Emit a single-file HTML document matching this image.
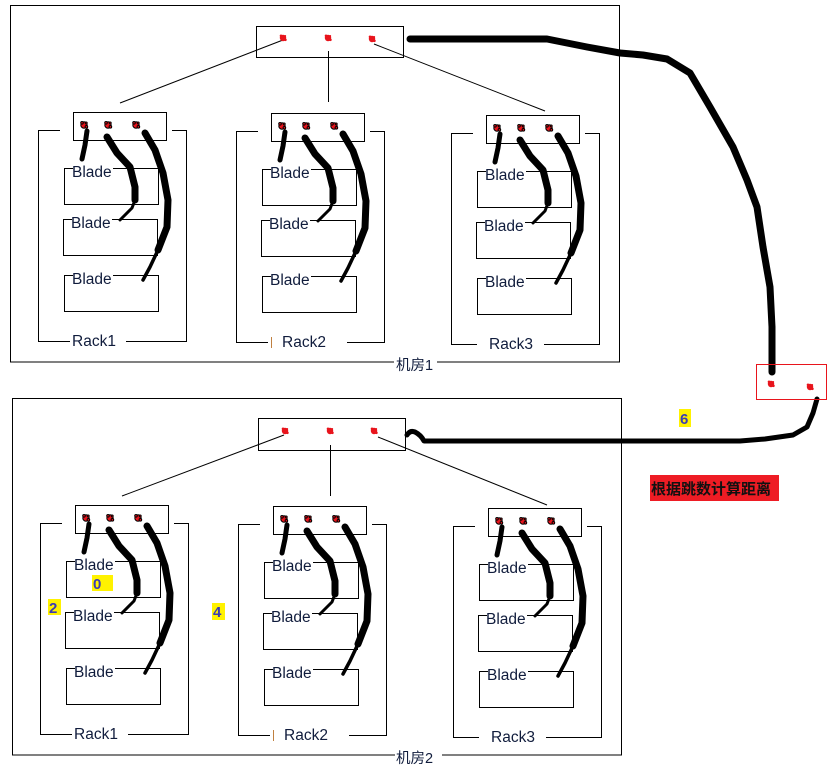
<!DOCTYPE html>
<html>
<head>
<meta charset="utf-8">
<style>
html,body{margin:0;padding:0;background:#fff;}
svg{display:block;}
text{font-family:"Liberation Sans","Noto Sans CJK SC",sans-serif;}
.lbl{font-size:15.5px;fill:#101c3c;}
.num{font-size:15px;font-weight:bold;fill:#3c3cb4;}
</style>
</head>
<body>
<svg width="838" height="772" viewBox="0 0 838 772" xmlns="http://www.w3.org/2000/svg">
<defs>
  <g id="dot"><circle cx="0" cy="0" r="3.2" fill="#e8141c"/><circle cx="-2" cy="-2.2" r="1.3" fill="#e8141c"/><circle cx="2.4" cy="1.8" r="1.3" fill="#e8141c"/><circle cx="2.2" cy="-2" r="1" fill="#e8141c"/></g>
  <g id="rackshapes" fill="none" stroke="#000" stroke-width="1">
    <rect x="0.5" y="0.5" width="93" height="28" fill="#fff"/>
    <path d="M-13 18.5 H-34.5 V229.5 H-3"/>
    <path d="M99 18.5 H113.5 V229.5"/>
    <rect x="-8.5" y="56.5" width="94" height="36"/>
    <rect x="-9.5" y="107.5" width="94" height="36"/>
    <rect x="-8.5" y="163.5" width="94" height="36"/>
    <rect x="0" y="52" width="40" height="8" fill="#fff" stroke="none"/>
    <rect x="-1" y="103" width="40" height="8" fill="#fff" stroke="none"/>
    <rect x="0" y="159" width="40" height="8" fill="#fff" stroke="none"/>
    <use href="#dot" x="11" y="13"/>
    <use href="#dot" x="35" y="13"/>
    <use href="#dot" x="63" y="13"/>
    <path d="M14 19 L12 33 L9 47" stroke-width="5" stroke-linecap="round" stroke-linejoin="round"/>
    <path d="M34 25 L44 41 L57 55 L62 75 L62 88" stroke-width="7" stroke-linecap="round" stroke-linejoin="round"/>
    <path d="M62 88 L59 96 L47 108" stroke-width="3" stroke-linecap="round" stroke-linejoin="round"/>
    <path d="M72 21 L82 38 L90 61 L95 88 L94 115 L85 138" stroke-width="7" stroke-linecap="round" stroke-linejoin="round"/>
    <path d="M85 138 L77 155 L70 168" stroke-width="3.5" stroke-linecap="round" stroke-linejoin="round"/>
  </g>
</defs>

<!-- Room 1 -->
<rect x="10.5" y="5.5" width="609" height="356.5" fill="none" stroke="#000" stroke-width="1"/>
<rect x="394" y="356" width="43" height="12" fill="#fff"/>
<text x="396" y="370" style="font-size:14.5px" fill="#101c3c">机房1</text>

<g stroke="#000" stroke-width="1" fill="none">
  <line x1="283" y1="40" x2="120" y2="103"/>
  <line x1="328.5" y1="51" x2="328.5" y2="102"/>
  <line x1="374" y1="44" x2="545" y2="111"/>
  <rect x="256.5" y="26.5" width="147" height="31"/>
</g>
<use href="#dot" x="283" y="38"/>
<use href="#dot" x="328" y="38"/>
<use href="#dot" x="372" y="39"/>

<g transform="translate(73,112)"><use href="#rackshapes"/>
  <line x1="53" y1="229.5" x2="114" y2="229.5" stroke="#000"/>
  <text class="lbl" x="-1" y="65">Blade</text><text class="lbl" x="-2" y="116">Blade</text><text class="lbl" x="-1" y="172">Blade</text>
  <text class="lbl" x="-1" y="234">Rack1</text></g>
<g transform="translate(271,113)"><use href="#rackshapes"/>
  <line x1="0.5" y1="224" x2="0.5" y2="235" stroke="#c08040"/>
  <line x1="76" y1="229.5" x2="114" y2="229.5" stroke="#000"/>
  <text class="lbl" x="-1" y="65">Blade</text><text class="lbl" x="-2" y="116">Blade</text><text class="lbl" x="-1" y="172">Blade</text>
  <text class="lbl" x="11" y="234">Rack2</text></g>
<g transform="translate(486,115)"><use href="#rackshapes"/>
  <rect x="-9" y="224" width="8" height="10" fill="#fff"/>
  <line x1="58" y1="229.5" x2="114" y2="229.5" stroke="#000"/>
  <text class="lbl" x="-1" y="65">Blade</text><text class="lbl" x="-2" y="116">Blade</text><text class="lbl" x="-1" y="172">Blade</text>
  <text class="lbl" x="3" y="234">Rack3</text></g>

<!-- Room 2 -->
<rect x="12.5" y="398.5" width="609" height="356.5" fill="none" stroke="#000" stroke-width="1"/>
<rect x="395" y="749" width="47" height="12" fill="#fff"/>
<text x="396" y="763" style="font-size:14.5px" fill="#101c3c">机房2</text>

<g stroke="#000" stroke-width="1" fill="none">
  <line x1="284" y1="435" x2="122" y2="496"/>
  <line x1="330.5" y1="445" x2="330.5" y2="496"/>
  <line x1="378" y1="437" x2="547" y2="505"/>
  <rect x="258.5" y="418.5" width="147" height="32"/>
</g>
<use href="#dot" x="285" y="431"/>
<use href="#dot" x="330" y="431"/>
<use href="#dot" x="374" y="431"/>

<g transform="translate(75,505)"><use href="#rackshapes"/>
  <line x1="53" y1="229.5" x2="114" y2="229.5" stroke="#000"/>
  <text class="lbl" x="-1" y="65">Blade</text><text class="lbl" x="-2" y="116">Blade</text><text class="lbl" x="-1" y="172">Blade</text>
  <text class="lbl" x="-1" y="234">Rack1</text></g>
<g transform="translate(273,506)"><use href="#rackshapes"/>
  <line x1="0.5" y1="224" x2="0.5" y2="235" stroke="#c08040"/>
  <line x1="76" y1="229.5" x2="114" y2="229.5" stroke="#000"/>
  <text class="lbl" x="-1" y="65">Blade</text><text class="lbl" x="-2" y="116">Blade</text><text class="lbl" x="-1" y="172">Blade</text>
  <text class="lbl" x="11" y="234">Rack2</text></g>
<g transform="translate(488,508)"><use href="#rackshapes"/>
  <rect x="-9" y="224" width="8" height="10" fill="#fff"/>
  <line x1="58" y1="229.5" x2="114" y2="229.5" stroke="#000"/>
  <text class="lbl" x="-1" y="65">Blade</text><text class="lbl" x="-2" y="116">Blade</text><text class="lbl" x="-1" y="172">Blade</text>
  <text class="lbl" x="3" y="234">Rack3</text></g>

<!-- Big cables -->
<path d="M410 39 L547 39 L587 47 L620 53 L643 55 L667 59 L690 73 L710 107 L733 147 L747 180 L757 207 L763 247 L770 287 L772 327 L772 372"
      fill="none" stroke="#000" stroke-width="7" stroke-linecap="round" stroke-linejoin="round"/>
<path d="M407 435 Q410 430 415 432 Q421 435 424 441 L740 441 L765 439 L793 435 L807 427 L813 413 L817 399"
      fill="none" stroke="#000" stroke-width="5" stroke-linecap="round" stroke-linejoin="round"/>

<!-- Right red box -->
<rect x="756.5" y="364.5" width="70" height="35" fill="none" stroke="#e8141c" stroke-width="1"/>
<use href="#dot" x="771" y="384"/>
<use href="#dot" x="810" y="387"/>

<!-- Hop numbers -->
<rect x="679" y="409" width="12" height="18" fill="#fff200"/>
<text class="num" x="680" y="424">6</text>
<rect x="92" y="575" width="21" height="16" fill="#fff200"/>
<text class="num" x="93" y="589">0</text>
<rect x="48" y="599" width="13" height="16" fill="#fff200"/>
<text class="num" x="49" y="613">2</text>
<rect x="212" y="603" width="13" height="17" fill="#fff200"/>
<text class="num" x="213" y="617">4</text>

<!-- Red label -->
<rect x="650" y="475" width="129" height="26" fill="#ee1c24"/>
<text x="651" y="494" style="font-size:15px;font-weight:bold" fill="#111">根据跳数计算距离</text>
</svg>
</body>
</html>
